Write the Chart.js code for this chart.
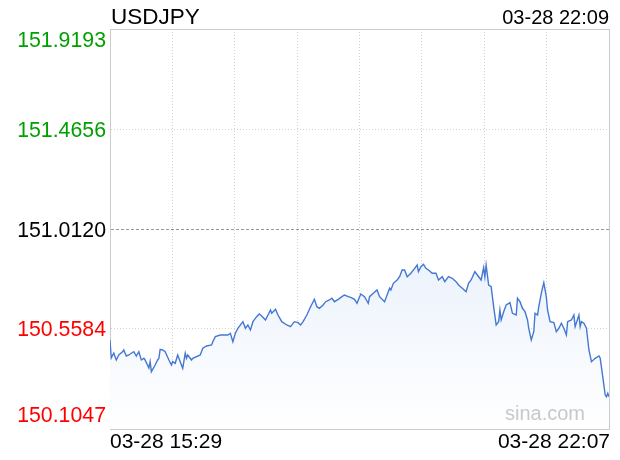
<!DOCTYPE html>
<html>
<head>
<meta charset="utf-8">
<script src="https://cdn.jsdelivr.net/npm/chart.js@4/dist/chart.umd.min.js"></script>
<style>
  html, body { margin: 0; padding: 0; background: #fff; }
  #wrap { width: 620px; height: 460px; }
</style>
</head>
<body>
<div id="wrap"><canvas id="c" width="620" height="460"></canvas></div>
<script>
// ---- data ----
const symbol = 'USDJPY';
const stampText = '03-28 22:09';
const watermark = 'sina.com';
const xTickLabels = ['03-28 15:29', '03-28 22:07'];
const yTicks = [150.1047, 150.5584, 151.0120, 151.4656, 151.9193];
const yTickLabels = ['150.1047', '150.5584', '151.0120', '151.4656', '151.9193'];
const prevClose = 151.0120;
const sessionMinutes = 398; // 15:29 -> 22:07

// minutes after 15:29
const minutesFromStart = [0,1,3,5,7,10,11,13,15,17,19,21,23,25,27,28,31,32,33,36,38,39,40,42,44,47,49,50,52,54,56,58,60,61,62,65,66,72,74,77,81,82,84,88,94,96,98,100,102,106,108,110,112,114,117,119,121,124,128,129,132,134,137,141,144,147,150,152,154,157,160,163,165,167,170,172,175,177,179,182,185,187,190,192,195,197,200,203,206,207,210,213,215,219,221,223,224,226,229,231,233,235,237,240,243,245,246,248,250,252,254,257,260,262,265,267,270,273,276,278,281,284,286,288,291,293,296,298,299,300,302,304,306,308,310,311,312,314,316,319,321,324,325,327,329,331,333,334,336,338,339,341,342,344,346,348,349,351,354,356,358,360,362,364,365,368,370,371,374,375,376,378,380,382,384,387,390,391,393,395,396,397,398];

const prices = [150.5085,150.4269,150.4495,150.4178,150.4405,150.4554,150.4631,150.4359,150.4405,150.4482,
150.4554,150.4359,150.4554,150.4178,150.4255,150.4178,150.3815,150.4101,150.3647,150.3951,
150.4178,150.4255,150.4663,150.4631,150.4554,150.4178,150.3951,150.4101,150.4028,150.4405,
150.4101,150.3801,150.4482,150.4255,150.4405,150.4178,150.4255,150.4405,150.4709,150.4813,
150.4858,150.5008,150.5235,150.5312,150.5312,150.5389,150.5008,150.5389,150.5616,150.5915,
150.5616,150.5765,150.5539,150.5915,150.6142,150.6264,150.6174,150.5992,150.6446,150.6296,
150.6478,150.6219,150.5915,150.5765,150.5688,150.5915,150.5870,150.5765,150.5915,150.6219,
150.6596,150.6931,150.6596,150.6523,150.6673,150.6822,150.6899,150.6977,150.6822,150.6931,
150.7049,150.7126,150.7049,150.7022,150.6931,150.6750,150.7172,150.7049,150.6750,150.7049,
150.7203,150.7353,150.7049,150.6822,150.7126,150.7430,150.7353,150.7657,150.7807,150.7956,
150.8260,150.8260,150.7956,150.8111,150.8337,150.8487,150.8183,150.8410,150.8519,150.8337,
150.8260,150.8111,150.8111,150.7807,150.7956,150.7730,150.7956,150.7884,150.7730,150.7580,
150.7430,150.7276,150.7657,150.7807,150.8183,150.8033,150.7807,150.8365,150.7956,150.8487,
150.7580,150.7503,150.6596,150.5765,150.5915,150.6446,150.5992,150.6369,150.6673,150.6777,
150.6296,150.6219,150.6977,150.6822,150.6523,150.6369,150.5992,150.5616,150.5085,150.5462,
150.6296,150.6219,150.6596,150.7203,150.7684,150.7049,150.6446,150.5915,150.5870,150.5462,
150.5616,150.5843,150.5616,150.5312,150.5915,150.5992,150.6219,150.5688,150.6219,150.5688,
150.5915,150.5843,150.5616,150.4631,150.4101,150.4255,150.4359,150.4255,150.3420,150.2590,
150.2513,150.2665,150.2513];

// ---- rendering ----
const FONT = '"Liberation Sans", Arial, Helvetica, sans-serif';
const FRAME = '#cccccc';

const textPlugin = {
  id: 'texts',
  afterDraw(chart) {
    const { ctx, chartArea: a, scales: { x, y } } = chart;
    ctx.save();
    ctx.textBaseline = 'alphabetic';
    // title
    ctx.fillStyle = '#000';
    ctx.font = '22.5px ' + FONT;
    ctx.textAlign = 'left';
    ctx.fillText(symbol, a.left + 1, 24);
    ctx.font = '20px ' + FONT;
    ctx.textAlign = 'right';
    ctx.fillText(stampText, a.right, 24);
    // y labels
    ctx.font = '21.3px ' + FONT;
    ctx.textAlign = 'right';
    yTicks.forEach((v, i) => {
      let py = y.getPixelForValue(v) + 7.5;
      py = Math.max(py, a.top + 18);
      py = Math.min(py, a.bottom - 7);
      ctx.fillStyle = v > prevClose + 1e-6 ? '#00a000' : (v < prevClose - 1e-6 ? '#ff0000' : '#000');
      ctx.fillText(yTickLabels[i], a.left - 4, py);
    });
    // x labels
    ctx.font = '21px ' + FONT;
    ctx.fillStyle = '#000';
    ctx.textAlign = 'left';
    ctx.fillText(xTickLabels[0], x.getPixelForValue(0), a.bottom + 19);
    ctx.textAlign = 'right';
    ctx.fillText(xTickLabels[1], x.getPixelForValue(sessionMinutes) + 1, a.bottom + 19);
    // watermark
    ctx.font = '20px ' + FONT;
    ctx.fillStyle = '#c8c8c8';
    ctx.textAlign = 'right';
    ctx.fillText(watermark, a.right - 24, a.bottom - 9);
    ctx.restore();
  }
};

function isEdge(scale, v) {
  return Math.abs(v - scale.min) < 1e-6 || Math.abs(v - scale.max) < 1e-6;
}

new Chart(document.getElementById('c'), {
  type: 'line',
  data: {
    datasets: [{
      data: minutesFromStart.map((m, i) => ({ x: m, y: prices[i] })),
      borderColor: '#4478d2',
      borderWidth: 1.4,
      pointRadius: 0,
      tension: 0,
      fill: 'start',
      backgroundColor: (c) => {
        const a = c.chart.chartArea;
        if (!a) return 'rgba(230,238,250,0.6)';
        const g = c.chart.ctx.createLinearGradient(0, a.top, 0, a.bottom);
        g.addColorStop(0, 'rgba(210,225,248,1)');
        g.addColorStop(1, 'rgba(255,255,255,1)');
        return g;
      }
    }]
  },
  options: {
    responsive: false,
    animation: false,
    devicePixelRatio: 1,
    layout: { padding: { left: 110, top: 29, right: 11, bottom: 31 } },
    plugins: { legend: { display: false }, tooltip: { enabled: false } },
    scales: {
      x: {
        type: 'linear',
        min: 0,
        max: sessionMinutes,
        afterBuildTicks: (s) => { s.ticks = Array.from({ length: 9 }, (_, i) => ({ value: i * sessionMinutes / 8 })); },
        ticks: { display: false },
        grid: {
          drawTicks: false,
          lineWidth: 1,
          color: (c) => isEdge(c.scale, c.tick.value) ? FRAME : '#d2d2d2'
        },
        border: {
          display: true, color: FRAME, width: 1,
          dash: (c) => (c.tick && !isEdge(c.scale, c.tick.value)) ? [1, 2] : []
        }
      },
      y: {
        min: yTicks[0],
        max: yTicks[yTicks.length - 1],
        afterBuildTicks: (s) => { s.ticks = yTicks.map(v => ({ value: v })); },
        ticks: { display: false },
        grid: {
          drawTicks: false,
          lineWidth: 1,
          color: (c) => isEdge(c.scale, c.tick.value) ? FRAME : (Math.abs(c.tick.value - prevClose) < 1e-6 ? '#999999' : '#d2d2d2')
        },
        border: {
          display: true, color: FRAME, width: 1,
          dash: (c) => {
            if (!c.tick || isEdge(c.scale, c.tick.value)) return [];
            return Math.abs(c.tick.value - prevClose) < 1e-6 ? [3, 2] : [1, 2];
          }
        }
      }
    }
  },
  plugins: [textPlugin]
});
</script>
</body>
</html>
